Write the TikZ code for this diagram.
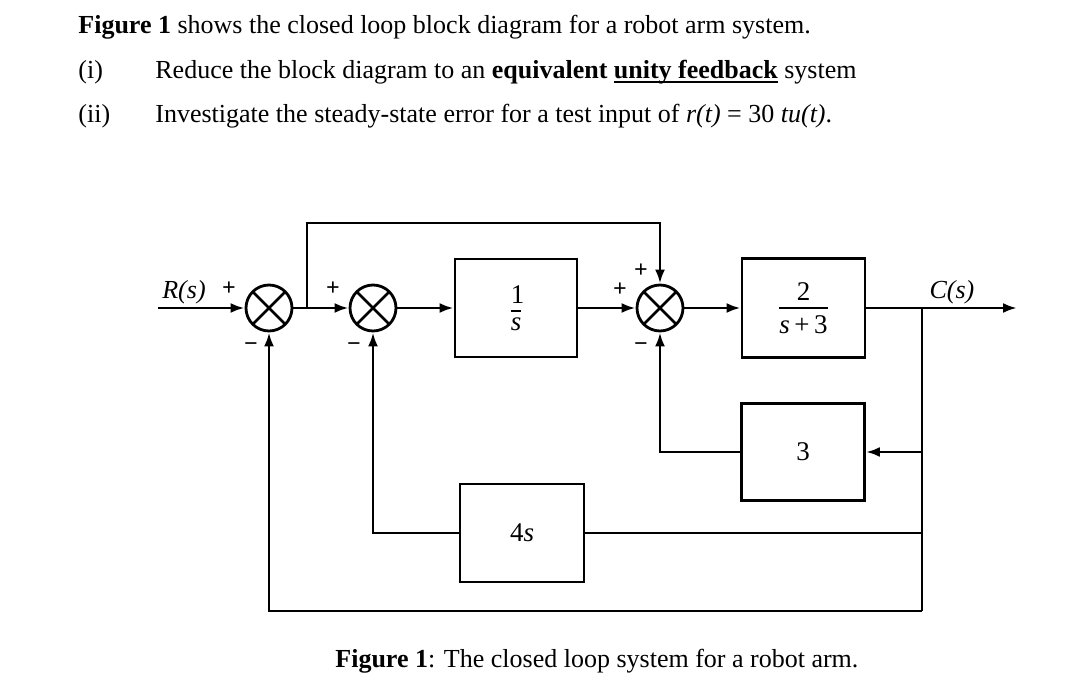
\documentclass[tikz,border=0pt]{standalone}
\usepackage{fontspec}
\setmainfont{Liberation Serif}
\usetikzlibrary{arrows.meta}
\newcommand{\blkfrac}[2]{\setbox0\hbox{#2}\vbox{\hbox to\wd0{\hfil #1\hfil}\kern3.5pt\hrule height 0.9pt\kern3pt\box0}}
\newcommand{\thickul}[1]{\setbox0\hbox{#1}\rlap{\rule[-2.2pt]{\wd0}{1.1pt}}\box0}
\begin{document}
\begin{tikzpicture}[x=0.5pt,y=-0.5pt,
  line/.style={line width=1.4pt},
  arr/.style={line, -{Latex[length=7pt,width=5pt]}},
  sumnode/.style={circle, draw, line width=1.4pt, minimum size=23pt, inner sep=0pt,
    path picture={\draw[line width=1.4pt]
      (path picture bounding box.north west) -- (path picture bounding box.south east)
      (path picture bounding box.north east) -- (path picture bounding box.south west);}},
  blk/.style={draw, line width=1.4pt, inner sep=0pt, font=\fontsize{13.5}{14}\selectfont},
  sgn/.style={inner sep=0pt, font=\fontsize{12}{12}\selectfont\bfseries},
  lbl/.style={inner sep=0pt, font=\fontsize{13}{14}\selectfont\itshape},
  txt/.style={anchor=base west, inner sep=0pt, font=\fontsize{13}{15}\selectfont},
]
\useasboundingbox (0,0) rectangle (1080,683);
% texts
\node[txt] (t1) at (78,34) {\textbf{Figure 1} shows the closed loop block diagram for a robot arm system.};
\node[txt] (t2a) at (78,79) {(i)};
\node[txt] (t2b) at (155,79) {Reduce the block diagram to an \textbf{equivalent \thickul{unity feedback}} system};
\node[txt] (t3a) at (78,123) {(ii)};
\node[txt] (t3b) at (155,123) {Investigate the steady-state error for a test input of \textit{r(t)} = 30 \textit{tu(t)}.};
\node[txt] (cap) at (335,667) {\textbf{Figure 1}: The closed loop system for a robot arm.};
% summing junctions
\node[sumnode] (sum1) at (269,308) {};
\node[sumnode] (sum2) at (373,308) {};
\node[sumnode] (sum3) at (660,308) {};
% blocks
\node[blk, minimum width=61pt, minimum height=49pt] (b1) at (516,308) {\blkfrac{1}{\itshape s}};
\node[blk, minimum width=61.5pt, minimum height=49.5pt] (b2) at (803.5,308) {\blkfrac{2}{\itshape s\,\upshape+\,3}};
\node[blk, minimum width=61.5pt, minimum height=48.5pt] (b3) at (803,452) {3};
\node[blk, minimum width=62pt, minimum height=49pt] (b4) at (522,533) {4\textit{s}};
% labels
\node[lbl] (R) at (184,292) {R(s)};
\node[lbl] (C) at (952,292) {C(s)};
\node[sgn] (p1) at (229,289) {+};
\node[sgn] (m1) at (251,347) {−};
\node[sgn] (p2) at (333,289) {+};
\node[sgn] (m2) at (354,347) {−};
\node[sgn] (p3a) at (641,271) {+};
\node[sgn] (p3b) at (620,290) {+};
\node[sgn] (m3) at (641,347) {−};
% coordinates
\coordinate (in) at (158,308);
\coordinate (br1) at (307,308);
\coordinate (topL) at (307,223);
\coordinate (br2) at (922,308);
\coordinate (out) at (1017,308);
\coordinate (tap3) at (922,452);
\coordinate (tap4) at (922,533);
\coordinate (cBR) at (922,611);
% connectors
\draw[arr] (in) -- (sum1.west);
\draw[line] (sum1.east) -- (br1);
\draw[arr] (br1) -- (sum2.west);
\draw[arr] (br1) -- (topL) -| (sum3.north);
\draw[arr] (sum2.east) -- (b1.west);
\draw[arr] (b1.east) -- (sum3.west);
\draw[arr] (sum3.east) -- (b2.west);
\draw[line] (b2.east) -- (br2);
\draw[arr] (br2) -- (out);
\draw[line] (br2) -- (cBR);
\draw[arr] (cBR) -| (sum1.south);
\draw[arr] (tap3) -- (b3.east);
\draw[arr] (b3.west) -| (sum3.south);
\draw[line] (tap4) -- (b4.east);
\draw[arr] (b4.west) -| (sum2.south);
\end{tikzpicture}
\end{document}
